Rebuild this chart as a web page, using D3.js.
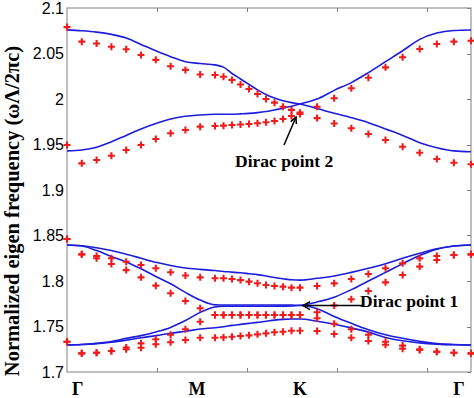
<!DOCTYPE html>
<html>
<head>
<meta charset="utf-8">
<script src="https://cdn.jsdelivr.net/npm/d3@7"></script>
<style>
  html, body { margin: 0; padding: 0; background: #ffffff; }
  svg { display: block; }
</style>
</head>
<body>
<svg id="chart" width="474" height="398"></svg>
<script>
// ---------- data ----------
// k positions along Γ–M–K–Γ path (axis units)
const kPts = [0, 0.1644, 0.3289, 0.4933, 0.6578, 0.8222, 0.9867, 1.1511, 1.3156, 1.48, 1.6444,
  1.7389, 1.8333, 1.9278, 2.0222, 2.1167, 2.2111, 2.3056, 2.4, 2.4944, 2.5889,
  2.7789, 2.9689, 3.1589, 3.3489, 3.5389, 3.7289, 3.9189, 4.1089, 4.2989, 4.4889];

// blue solid curves (calculated bands)
const lineUpperA = [2.076, 2.075, 2.0735, 2.071, 2.067, 2.060, 2.053, 2.0465, 2.041, 2.039, 2.0375,
  2.035, 2.028, 2.022, 2.016, 2.010, 2.005, 2.001, 1.998, 1.996, 1.9945,
  1.9895, 1.9843, 1.9795, 1.974, 1.967, 1.960, 1.952, 1.9465, 1.943, 1.942];
const lineUpperB = [1.943, 1.944, 1.947, 1.953, 1.960, 1.967, 1.973, 1.978, 1.981, 1.9825, 1.9832,
  1.9832, 1.9833, 1.9837, 1.9842, 1.985, 1.9862, 1.988, 1.9898, 1.992, 1.9945,
  2.000, 2.0095, 2.018, 2.029, 2.041, 2.053, 2.0655, 2.0725, 2.0752, 2.0758];
const lineBand4 = [1.8396, 1.8388, 1.8365, 1.8335, 1.8295, 1.825, 1.8205, 1.817, 1.8143, 1.8128, 1.8115,
  1.8105, 1.8098, 1.809, 1.808, 1.807, 1.8055, 1.8038, 1.8025, 1.8013, 1.801,
  1.803, 1.8055, 1.8095, 1.814, 1.819, 1.825, 1.8305, 1.8355, 1.8385, 1.8396];
const lineBand3 = [1.8396, 1.8385, 1.8335, 1.827, 1.821, 1.8135, 1.805, 1.797, 1.7875, 1.779, 1.7738,
  1.7736, 1.7736, 1.7736, 1.7736, 1.7736, 1.7736, 1.7736, 1.7736, 1.7735, 1.7733,
  1.777, 1.7822, 1.7905, 1.800, 1.8095, 1.819, 1.828, 1.835, 1.8385, 1.8396];
const lineBand2 = [1.7297, 1.7302, 1.7315, 1.7335, 1.737, 1.740, 1.744, 1.749, 1.7565, 1.7655, 1.7715,
  1.7722, 1.7722, 1.7722, 1.7722, 1.7722, 1.7722, 1.7723, 1.7724, 1.7725, 1.773,
  1.7695, 1.761, 1.7535, 1.7465, 1.741, 1.737, 1.7338, 1.7312, 1.7302, 1.7297];
const lineBand1 = [1.7297, 1.7302, 1.7312, 1.7327, 1.735, 1.7377, 1.740, 1.7426, 1.7448, 1.7472, 1.7487,
  1.7498, 1.7512, 1.7523, 1.7534, 1.7545, 1.7558, 1.757, 1.7578, 1.7582, 1.7582,
  1.7558, 1.7525, 1.7485, 1.7438, 1.738, 1.7343, 1.732, 1.7306, 1.7299, 1.7297];

// red "+" markers (measured bands)
const dotUpperA = [2.079, 2.063, 2.061, 2.0575, 2.0546, 2.0484, 2.043, 2.036, 2.032, 2.027, 2.0264,
  2.0245, 2.021, 2.016, 2.011, 2.0055, 2.000, 1.996, 1.9915, 1.988, 1.985,
  1.979, 1.973, 1.9678, 1.9615, 1.955, 1.9476, 1.941, 1.934, 1.930, 1.9283];
const dotUpperB = [1.9494, 1.9293, 1.933, 1.9377, 1.944, 1.9494, 1.956, 1.9623, 1.966, 1.9696, 1.9703,
  1.9707, 1.9714, 1.972, 1.9725, 1.9733, 1.9744, 1.9758, 1.978, 1.9813, 1.9835,
  1.9915, 2.0008, 2.0118, 2.0234, 2.0348, 2.0458, 2.055, 2.0604, 2.063, 2.064];
const dotBand4 = [1.8462, 1.8293, 1.8275, 1.825, 1.8212, 1.8176, 1.814, 1.8096, 1.806, 1.804, 1.803,
  1.803, 1.8022, 1.801, 1.7993, 1.7975, 1.7956, 1.7945, 1.7938, 1.7927, 1.7927,
  1.7945, 1.7974, 1.8022, 1.8077, 1.814, 1.8194, 1.8249, 1.8275, 1.8286, 1.8293];
const dotBand3 = [1.8462, 1.8293, 1.825, 1.8187, 1.812, 1.804, 1.7949, 1.7865, 1.778, 1.770, 1.7626,
  1.7626, 1.7626, 1.7626, 1.7626, 1.7626, 1.7626, 1.7626, 1.7626, 1.7626, 1.7626,
  1.7656, 1.773, 1.780, 1.789, 1.7985, 1.8066, 1.8158, 1.823, 1.8286, 1.8293];
const dotBand2 = [1.7333, 1.7205, 1.7212, 1.7231, 1.727, 1.7315, 1.736, 1.741, 1.747, 1.7553, 1.7626,
  1.7626, 1.7626, 1.7626, 1.7626, 1.7626, 1.7626, 1.7626, 1.7626, 1.7626, 1.7626,
  1.759, 1.753, 1.747, 1.741, 1.7333, 1.729, 1.725, 1.7223, 1.7212, 1.7205];
const dotBand1 = [1.7333, 1.7205, 1.7212, 1.7231, 1.725, 1.7267, 1.7305, 1.7327, 1.7352, 1.7377, 1.7377,
  1.738, 1.7388, 1.7396, 1.7403, 1.7414, 1.7425, 1.7436, 1.7443, 1.7454, 1.7454,
  1.745, 1.7418, 1.7377, 1.734, 1.730, 1.7255, 1.7242, 1.7223, 1.7212, 1.7205];

const xDomain = [0, 4.4889];
const xTickValues = [1, 2, 3, 4];
const kLabelNames = ["Γ", "M", "K", "Γ"];
const kLabelPos = [0.12, 1.445, 2.589, 4.355];
const yDomain = [1.7, 2.1];
const yTickValues = [1.7, 1.75, 1.8, 1.85, 1.9, 1.95, 2.0, 2.05, 2.1];
const yTitle = "Normalized eigen frequency (ωΛ/2πc)";
const annotations = [
  { text: "Dirac point 2", k: 2.589, f: 1.9945 },
  { text: "Dirac point 1", k: 2.589, f: 1.773 }
];

// ---------- drawing ----------
const svg = d3.select("#chart");
const M = { left: 67, right: 471, top: 8, bottom: 372 };
const x = d3.scaleLinear().domain(xDomain).range([M.left, M.right]);
const y = d3.scaleLinear().domain(yDomain).range([M.bottom, M.top]);

const axisColor = "#808080";
const serif = "'Liberation Serif', 'Times New Roman', serif";
const sans = "'Liberation Sans', Arial, sans-serif";

// box
svg.append("rect")
  .attr("x", M.left).attr("y", M.top)
  .attr("width", M.right - M.left).attr("height", M.bottom - M.top)
  .attr("fill", "none").attr("stroke", axisColor).attr("stroke-width", 1);

// inner ticks: top & bottom
const tickLen = 4;
const gx = svg.append("g");
xTickValues.forEach(t => {
  const px = Math.round(x(t)) + 0.5;
  gx.append("line").attr("x1", px).attr("x2", px).attr("y1", M.top).attr("y2", M.top + tickLen)
    .attr("stroke", axisColor);
  gx.append("line").attr("x1", px).attr("x2", px).attr("y1", M.bottom).attr("y2", M.bottom - tickLen)
    .attr("stroke", axisColor);
});
// right ticks
yTickValues.forEach(t => {
  const py = Math.round(y(t)) + 0.5;
  gx.append("line").attr("x1", M.right).attr("x2", M.right - tickLen).attr("y1", py).attr("y2", py)
    .attr("stroke", axisColor);
});

// y tick labels
const fmt = v => String(+v.toFixed(2));
svg.append("g").selectAll("text").data(yTickValues).join("text")
  .attr("x", M.left - 3).attr("y", d => y(d)).attr("dy", "0.36em")
  .attr("text-anchor", "end")
  .attr("font-family", sans).attr("font-size", "16px").attr("fill", "#000")
  .text(d => fmt(d));

// x labels
svg.append("g").selectAll("text").data(kLabelNames).join("text")
  .attr("x", (d, i) => x(kLabelPos[i])).attr("y", 395)
  .attr("text-anchor", "middle")
  .attr("font-family", serif).attr("font-weight", "bold").attr("font-size", "18px").attr("fill", "#000")
  .text(d => d);

// y title
svg.append("text")
  .attr("transform", "translate(19,211) rotate(-90)")
  .attr("text-anchor", "middle")
  .attr("font-family", serif).attr("font-weight", "bold").attr("font-size", "20.5px").attr("fill", "#000")
  .text(yTitle);

// blue lines
const lineGen = d3.line().x((d, i) => x(kPts[i])).y(d => y(d)).curve(d3.curveMonotoneX);
const lines = [lineUpperA, lineUpperB, lineBand4, lineBand3, lineBand2, lineBand1];
svg.append("g").selectAll("path").data(lines).join("path")
  .attr("d", d => lineGen(d))
  .attr("fill", "none").attr("stroke", "#1c1cdc").attr("stroke-width", 1.6);

// red + markers
const dots = [dotUpperA, dotUpperB, dotBand4, dotBand3, dotBand2, dotBand1];
const plusPath = "M-3.5,0H3.5M0,-3.5V3.5";
const gd = svg.append("g");
dots.forEach(series => {
  gd.selectAll(null).data(series).join("path")
    .attr("transform", (d, i) => `translate(${x(kPts[i])},${y(d)})`)
    .attr("d", plusPath)
    .attr("stroke", "#f01c1c").attr("stroke-width", 2.1).attr("fill", "none");
});

// annotations
const ga = svg.append("g").attr("stroke", "#000").attr("stroke-width", 1.5).attr("fill", "none");
// Dirac point 2: arrow from label up to the crossing
{
  const a = annotations[0];
  const tx = x(a.k) - 4, ty = y(a.f) + 13;
  const sx = tx - 12, sy = ty + 28;
  ga.append("line").attr("x1", sx).attr("y1", sy).attr("x2", tx).attr("y2", ty);
  const ang = Math.atan2(ty - sy, tx - sx);
  const hl = 7, hw = 0.45;
  ga.append("path").attr("d",
    `M${tx - hl * Math.cos(ang - hw)},${ty - hl * Math.sin(ang - hw)}L${tx},${ty}L${tx - hl * Math.cos(ang + hw)},${ty - hl * Math.sin(ang + hw)}`);
  svg.append("text").attr("x", 235).attr("y", 167)
    .attr("font-family", serif).attr("font-weight", "bold").attr("font-size", "17.5px").attr("fill", "#000")
    .text(a.text);
}
// Dirac point 1: horizontal arrow
{
  const a = annotations[1];
  const tx = x(a.k) + 3, ty = y(a.f);
  const sx = 362;
  ga.append("line").attr("x1", sx).attr("y1", ty).attr("x2", tx).attr("y2", ty);
  ga.append("path").attr("d", `M${tx + 7},${ty - 4}L${tx},${ty}L${tx + 7},${ty + 4}`);
  svg.append("text").attr("x", 360).attr("y", 307)
    .attr("font-family", serif).attr("font-weight", "bold").attr("font-size", "17.5px").attr("fill", "#000")
    .text(a.text);
}
</script>
</body>
</html>
